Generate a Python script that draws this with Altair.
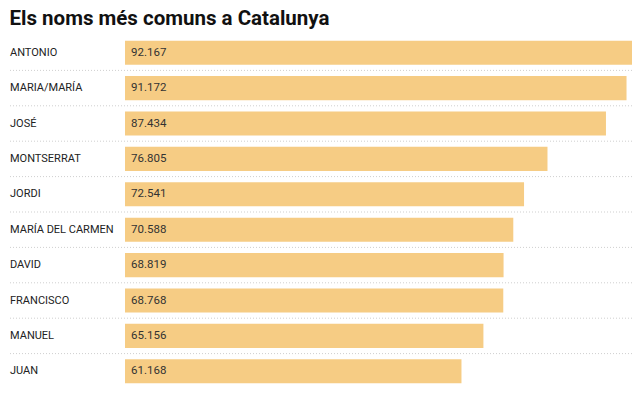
import altair as alt
import pandas as pd

names = ["ANTONIO", "MARIA/MARÍA", "JOSÉ", "MONTSERRAT", "JORDI",
         "MARÍA DEL CARMEN", "DAVID", "FRANCISCO", "MANUEL", "JUAN"]
values = [92167, 91172, 87434, 76805, 72541, 70588, 68819, 68768, 65156, 61168]
labels = ["92.167", "91.172", "87.434", "76.805", "72.541",
          "70.588", "68.819", "68.768", "65.156", "61.168"]

df = pd.DataFrame({"name": names, "value": values, "label": labels})
sep_df = pd.DataFrame({"name": names[:-1]})

W, H = 507, 354
step = H / len(names)

y = alt.Y("name:N", sort=names, axis=None,
          scale=alt.Scale(paddingInner=0.32, paddingOuter=0.16))
x = alt.X("value:Q", axis=None, scale=alt.Scale(domain=[0, 92167], nice=False, zero=True))

bars = alt.Chart(df).mark_bar(color="#f6cc84", cornerRadius=0).encode(x=x, y=y)

vals = alt.Chart(df).mark_text(align="left", baseline="middle", dx=6,
                               font="Roboto", fontSize=11.5, color="#333333").encode(
    x=alt.value(0), y=y, text="label:N")

nm = alt.Chart(df).mark_text(align="left", baseline="middle",
                             font="Roboto", fontSize=11, color="#222222").encode(
    x=alt.value(-115), y=y, text="name:N")

seps = alt.Chart(sep_df).mark_rule(color="#cfcfcf", strokeDash=[1, 2], strokeWidth=1,
                                   yOffset=step / 2).encode(
    x=alt.value(-115), x2=alt.value(508), y=y)

chart = alt.layer(seps, bars, vals, nm).properties(
    width=W, height=H,
    title=alt.TitleParams("Els noms més comuns a Catalunya", anchor="start", frame="bounds",
                          font="Roboto", fontSize=20.5, fontWeight="bold", color="#111111",
                          offset=6),
    padding={"left": 117, "top": 27, "right": 0, "bottom": 0},
    autosize=alt.AutoSizeParams(type="none"),
).configure_view(stroke=None)

chart.save("out.html", embed_options={"renderer": "svg", "actions": False})
